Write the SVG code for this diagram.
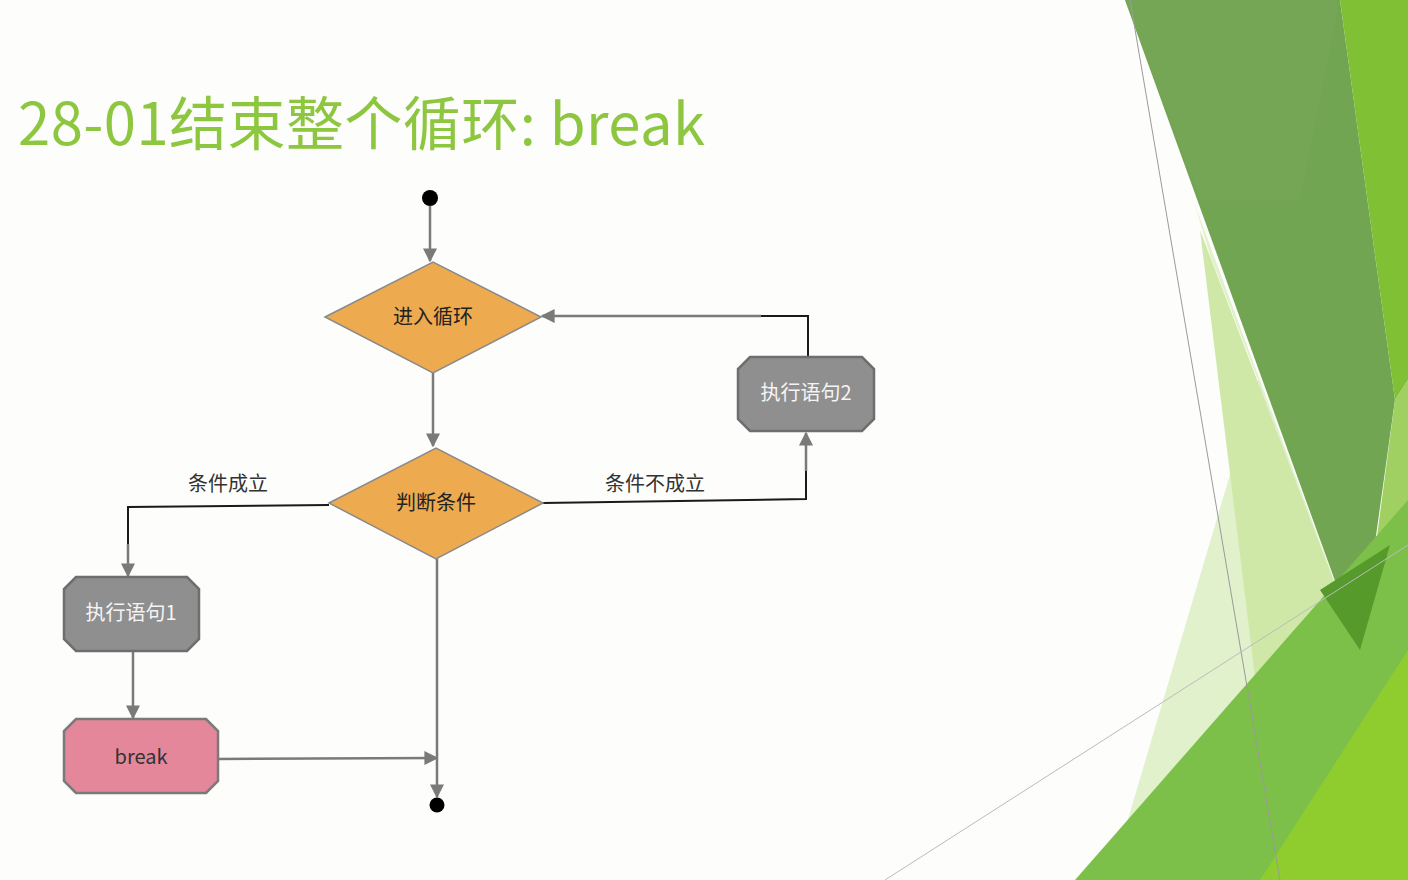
<svg xmlns="http://www.w3.org/2000/svg" width="1408" height="880" viewBox="0 0 1408 880">
<defs>
<marker id="ah" viewBox="0 0 10 10" refX="9" refY="5" markerWidth="14" markerHeight="14" markerUnits="userSpaceOnUse" orient="auto"><path d="M0,0 L10,5 L0,10 z" fill="#7a7a7a"/></marker>
</defs>
<style>
.t{font-family:"Noto Sans CJK SC","Liberation Sans",sans-serif;font-size:20px;text-anchor:middle}
.c{fill:none;stroke:#7a7a7a;stroke-width:2.5}
.k{fill:none;stroke:#1a1a1a;stroke-width:2}
.dia{fill:#eeaa4f;stroke:#8a8a8a;stroke-width:1.5}
.box{fill:#8f8f8f;stroke:#6e6e6e;stroke-width:2.5}
</style>
<rect width="1408" height="880" fill="#fdfdfb"/>
<g id="decor">
<polygon points="1195,205 1360,650 1300,880 1110,880 1258,380 1210,255" fill="#e0f1cc"/>
<polygon points="1200,230 1360,650 1290,880 1280,880" fill="#cfe8a8"/>
<polygon points="1125,0 1340,0 1395,400 1360,650" fill="#72a552"/>
<polygon points="1125,0 1340,0 1300,200 1200,200" fill="#76a858" opacity="0.5"/>
<polygon points="1340,0 1408,0 1408,380 1395,400" fill="#80c034"/>
<polygon points="1395,400 1408,380 1408,520 1370,590" fill="#a0d062"/>
<polygon points="1075,880 1408,500 1408,880" fill="#7cc04a"/>
<polygon points="1320,590 1390,545 1360,650" fill="#559a2a"/>
<polygon points="1260,880 1408,650 1408,880" fill="#8fcc2e"/>
<line x1="1130" y1="0" x2="1280" y2="880" stroke="#9a9a9a" stroke-width="1"/>
<line x1="885" y1="880" x2="1408" y2="545" stroke="#bbbbbb" stroke-width="1"/>
</g>
<text x="18" y="145" font-family="Noto Sans CJK SC,Liberation Sans,sans-serif" font-size="58" fill="#8dc63f" textLength="687" lengthAdjust="spacing">28-01结束整个循环: break</text>
<g id="connectors">
<path class="c" d="M430,206 V261" marker-end="url(#ah)"/>
<path class="c" d="M433,373 V446" marker-end="url(#ah)"/>
<path class="k" d="M329,505 L128,507 V545"/>
<path class="c" d="M128,544 V576" marker-end="url(#ah)"/>
<path class="c" d="M133,651 V718" marker-end="url(#ah)"/>
<path class="c" d="M218,759 L437,758" marker-end="url(#ah)"/>
<path class="c" d="M437,559 V797" marker-end="url(#ah)"/>
<path class="k" d="M543,503 L806,499 V470"/>
<path class="c" d="M806,471 V433" marker-end="url(#ah)"/>
<path class="k" d="M808,357 V316 H760"/>
<path class="c" d="M761,316 H542" marker-end="url(#ah)"/>
<text class="t" x="228" y="491" fill="#333">条件成立</text>
<text class="t" x="655" y="491" fill="#333">条件不成立</text>
</g>
<g id="start"><circle cx="430" cy="198" r="8" fill="#000"/></g>
<g id="end"><circle cx="437" cy="805" r="7.5" fill="#000"/></g>
<g id="enter"><polygon class="dia" points="325,317 433,262 541,317 433,373"/><text class="t" x="433" y="324" fill="#222">进入循环</text></g>
<g id="judge"><polygon class="dia" points="329,503 436,448 543,503 436,559"/><text class="t" x="436" y="510" fill="#222">判断条件</text></g>
<g id="stmt1"><polygon class="box" points="76,577 187,577 199,589 199,639 187,651 76,651 64,639 64,589"/><text class="t" x="131" y="620" fill="#f4f4f4">执行语句1</text></g>
<g id="brk"><polygon points="76,719 206,719 218,731 218,781 206,793 76,793 64,781 64,731" fill="#e4879b" stroke="#7a7a7a" stroke-width="2.5"/><text class="t" x="141" y="764" fill="#333" font-family="Liberation Sans,sans-serif">break</text></g>
<g id="stmt2"><polygon class="box" points="750,357 862,357 874,369 874,419 862,431 750,431 738,419 738,369"/><text class="t" x="806" y="400" fill="#f4f4f4">执行语句2</text></g>
</svg>
